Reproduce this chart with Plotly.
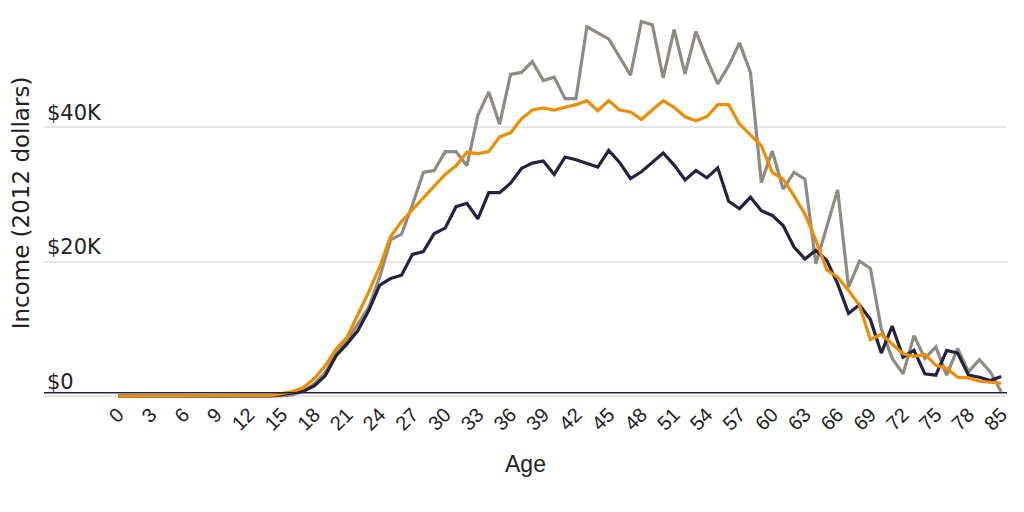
import plotly.graph_objects as go

# Age categories (80+ grouped: last category is 85)
ages = [str(a) for a in range(81)] + ["85"]

# Income in thousands of 2012 dollars
grey_vals = [0, 0, 0, 0, 0, 0, 0, 0, 0, 0, 0, 0, 0, 0, 0, 0,
             0.2, 0.7, 1.8, 3.5, 6.25, 8.25, 10.75, 13.25, 17.75, 23.25,
             24.1, 28.5, 33.3, 33.6, 36.4, 36.4, 34.3, 41.8, 45.3, 40.5,
             47.9, 48.2, 49.8, 47.0, 47.5, 44.3, 44.3, 55.0, 54.1, 53.2,
             50.5, 47.8, 55.8, 55.3, 47.4, 54.6, 48.0, 54.3, 50.2, 46.5,
             49.2, 52.6, 48.2, 31.8, 36.5, 30.8, 33.3, 32.3, 19.7, 25.1,
             30.7, 16.2, 20.1, 19.0, 10.0, 5.6, 3.3, 9.0, 5.6, 7.3,
             3.1, 7.1, 3.6, 5.4, 3.6, 0.6]

navy_vals = [0, 0, 0, 0, 0, 0, 0, 0, 0, 0, 0, 0, 0, 0, 0, 0.2,
             0.45, 0.7, 1.5, 3.0, 6.0, 7.75, 9.75, 12.75, 16.5, 17.5,
             18.0, 21.1, 21.5, 24.2, 25.0, 28.2, 28.7, 26.4, 30.3, 30.3,
             31.7, 33.9, 34.7, 35.0, 33.0, 35.6, 35.2, 34.6, 34.1, 36.6,
             34.8, 32.4, 33.4, 34.8, 36.2, 34.4, 32.2, 33.6, 32.5, 34.0,
             29.0, 27.9, 29.6, 27.6, 26.9, 25.4, 22.2, 20.4, 21.7, 20.2,
             16.7, 12.3, 13.6, 11.4, 6.4, 10.4, 5.8, 6.8, 3.3, 3.1,
             6.8, 6.4, 3.1, 2.8, 2.3, 2.9]

orange_vals = [0, 0, 0, 0, 0, 0, 0, 0, 0, 0, 0, 0, 0, 0, 0.1, 0.35,
               0.65, 1.25, 2.6, 4.5, 7.0, 8.75, 12.0, 15.5, 19.25, 23.75,
               26.0, 27.75, 29.5, 31.1, 33.0, 34.3, 36.3, 36.1, 36.4, 38.6,
               39.2, 41.3, 42.6, 42.9, 42.6, 43.0, 43.4, 44.0, 42.5, 44.0,
               42.6, 42.3, 41.2, 42.6, 44.0, 43.0, 41.6, 41.0, 41.6, 43.4,
               43.4, 40.5, 38.9, 37.3, 33.3, 32.3, 29.8, 27.1, 23.2, 18.8,
               17.7, 15.7, 13.5, 8.4, 9.2, 7.8, 6.3, 5.9, 6.2, 4.6,
               4.1, 2.8, 2.7, 2.2, 2.1, 1.9]

y_tickvals = [0, 20, 40]
y_ticktext = ["$0", "$20K", "$40K"]
x_tickvals = ages[::3]

GREY = "#8f8a83"
NAVY = "#25223f"
ORANGE = "#ec8e00"

fig = go.Figure()
fig.add_trace(go.Scatter(x=ages, y=grey_vals, mode="lines", name="Group A",
                         line=dict(color=GREY, width=3.2)))
fig.add_trace(go.Scatter(x=ages, y=navy_vals, mode="lines", name="Group B",
                         line=dict(color=NAVY, width=3.2)))
fig.add_trace(go.Scatter(x=ages, y=orange_vals, mode="lines", name="Group C",
                         line=dict(color=ORANGE, width=3.2)))

# dark baseline rule just above zero
fig.add_shape(type="line", xref="paper", x0=0, x1=1, yref="y", y0=0.5, y1=0.5,
              line=dict(color=NAVY, width=1.5), layer="above")

# page body has an 8px margin, so the figure is 8px smaller than the window
fig.update_layout(
    width=1016, height=504,
    margin=dict(l=36, r=17, t=0, b=114),
    plot_bgcolor="white", paper_bgcolor="white",
    showlegend=False,
    xaxis=dict(
        type="category", categoryorder="array", categoryarray=ages,
        range=[-6.79, 81.53], automargin=False,
        tickmode="array", tickvals=x_tickvals, ticktext=x_tickvals,
        tickangle=-45, showgrid=False, zeroline=False, showline=False,
        ticks="", tickfont=dict(family="Liberation Sans", size=20, color="#222"),
        title=dict(text="Age", font=dict(family="Liberation Sans", size=23, color="#222"),
                   standoff=22),
    ),
    yaxis=dict(
        range=[-0.3, 57.8], automargin=False,
        tickmode="array", tickvals=y_tickvals, ticktext=y_ticktext,
        ticklabelposition="inside top",
        showgrid=True, gridcolor="#e6e6e6", gridwidth=2,
        zeroline=False, showline=False, ticks="",
        tickfont=dict(family="DejaVu Sans", size=21, color="#222"),
        title=dict(text="Income (2012 dollars)",
                   font=dict(family="DejaVu Sans", size=23, color="#222"),
                   standoff=12),
    ),
)

fig.write_html("out.html")
